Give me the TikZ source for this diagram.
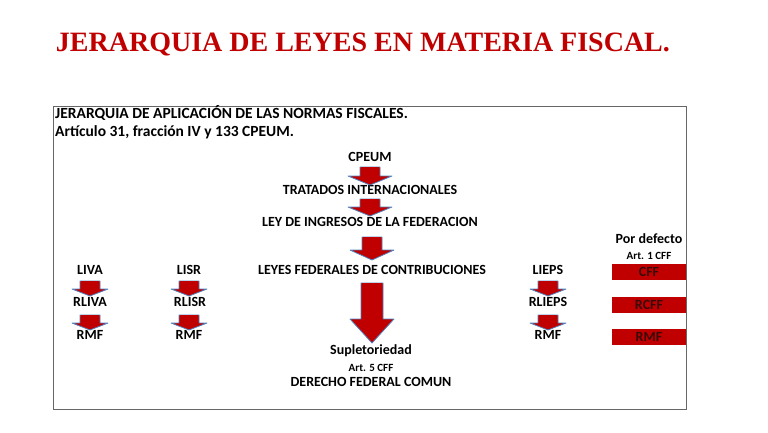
\documentclass[tikz,border=0pt]{standalone}
\usepackage{fontspec}
\setmainfont{Carlito}
\newfontfamily\titlefont{Liberation Serif}
\definecolor{arrred}{HTML}{C00000}
\definecolor{arrblue}{HTML}{4F81BD}
\definecolor{bartxt}{HTML}{3A0A0A}
\newcommand{\blockarr}[6]{% x, ytop, ybot, shaft half, head half, head length
  \fill[arrred,draw=arrblue,line width=0.8pt,line join=round]
   (#1-#4,#2) -- (#1+#4,#2) -- (#1+#4,#3-#6) -- (#1+#5,#3-#6) -- (#1,#3) -- (#1-#5,#3-#6) -- (#1-#4,#3-#6) -- cycle;
  \fill[arrred] (#1-#4+0.6,#2) rectangle (#1+#4-0.6,#3-#6+0.6);}
\begin{document}
\begin{tikzpicture}[x=1pt,y=-1pt,
  lbl/.style={font=\bfseries\fontsize{14}{16}\selectfont,inner sep=0pt},
  hdr/.style={font=\bfseries\fontsize{15.5}{17}\selectfont,inner sep=0pt},
  sml/.style={font=\bfseries\fontsize{11}{12}\selectfont,inner sep=0pt},
  bar/.style={fill=arrred,minimum width=74pt,minimum height=16pt,inner sep=0pt,text=bartxt,font=\bfseries\fontsize{14}{16}\selectfont}]
\useasboundingbox (0,0) rectangle (768,433);
\node[font=\titlefont\bfseries\fontsize{28}{30}\selectfont,text=arrred,inner sep=0pt] (title) at (363,45) {JERARQUIA DE LEYES EN MATERIA FISCAL.};
\draw[gray!80!black,line width=0.8pt] (53,106) rectangle (686,409);
\node[hdr,anchor=west] (h1) at (55,113) {JERARQUIA DE APLICACIÓN DE LAS NORMAS FISCALES.};
\node[hdr,anchor=west] (h2) at (55,132) {Artículo 31, fracción IV y 133 CPEUM.};
\node[lbl] (cpeum) at (370,157) {CPEUM};
\node[lbl] (trat) at (370,190) {TRATADOS INTERNACIONALES};
\node[lbl] (lif) at (370,222) {LEY DE INGRESOS DE LA FEDERACION};
\node[lbl] (lfc) at (372,270) {LEYES FEDERALES DE CONTRIBUCIONES};
\node[lbl] (sup) at (371,351) {Supletoriedad};
\node[sml] (a5) at (371,368) {Art. 5 CFF};
\node[lbl] (dfc) at (371,382) {DERECHO FEDERAL COMUN};
\blockarr{370}{167}{185}{10}{22}{9}
\blockarr{370}{199}{216}{10}{22}{9}
\blockarr{372}{237}{260}{10}{22}{10}
\blockarr{372}{283}{343}{11}{22}{24}
\node[lbl] (liva) at (90,270) {LIVA};
\node[lbl] (rliva) at (90,302) {RLIVA};
\node[lbl] (rmf1) at (90,335) {RMF};
\node[lbl] (lisr) at (189,270) {LISR};
\node[lbl] (rlisr) at (190,302) {RLISR};
\node[lbl] (rmf2) at (189,335) {RMF};
\node[lbl] (lieps) at (548,270) {LIEPS};
\node[lbl] (rlieps) at (548,302) {RLIEPS};
\node[lbl] (rmf3) at (548,335) {RMF};
\foreach \x in {90,189,548}{
  \blockarr{\x}{281}{296}{10}{18}{7}
  \blockarr{\x}{315}{330}{10}{18}{7}}
\node[lbl] (pd) at (649,239) {Por defecto};
\node[sml] (a1) at (649,256) {Art. 1 CFF};
\node[bar] (cff) at (649,272) {CFF};
\node[bar] (rcff) at (649,305) {RCFF};
\node[bar] (rmf4) at (649,337) {RMF};
\end{tikzpicture}
\end{document}
